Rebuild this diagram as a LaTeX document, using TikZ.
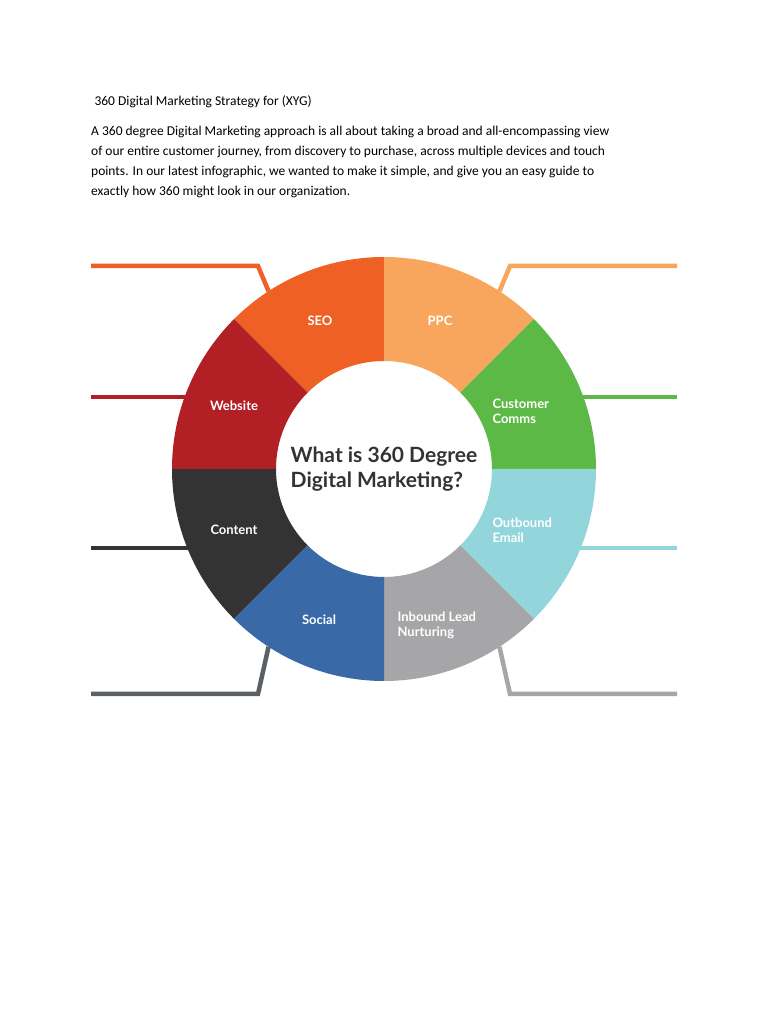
\documentclass[tikz,border=0pt]{standalone}
\usepackage{fontspec}
\usetikzlibrary{calc}
\setmainfont{Carlito}
\newfontfamily\lab{Lato}
\definecolor{cseo}{HTML}{EE6023}
\definecolor{cppc}{HTML}{F8A65E}
\definecolor{ccc}{HTML}{5DB946}
\definecolor{cout}{HTML}{92D5DB}
\definecolor{cinb}{HTML}{A6A6A8}
\definecolor{csoc}{HTML}{3A69A8}
\definecolor{ccon}{HTML}{333333}
\definecolor{cweb}{HTML}{B21F24}
\definecolor{csocl}{HTML}{5B6064}
\begin{document}
\begin{tikzpicture}[x=1pt,y=1pt,
  lbl/.style={text=white,font=\lab\bfseries\fontsize{13}{15}\selectfont,align=left},
  conn/.style={line width=4.5pt}]
\useasboundingbox (0,0) rectangle (768,1024);
\fill[white] (0,0) rectangle (768,1024);
\node[anchor=base west,font=\fontsize{13.5}{20}\selectfont] (title) at (91,918) {360 Digital Marketing Strategy for (XYG)};
\node[anchor=north west,align=left,inner sep=0pt,font=\fontsize{13.5}{20}\selectfont] (para) at (91,898)
{A 360 degree Digital Marketing approach is all about taking a broad and all-encompassing view\\
of our entire customer journey, from discovery to purchase, across multiple devices and touch\\
points. In our latest infographic, we wanted to make it simple, and give you an easy guide to\\
exactly how 360 might look in our organization.};
\coordinate (c) at (384,555);
% connectors
\coordinate (seoE) at ($(c)+(123:212)$);
\coordinate (ppcE) at ($(c)+(57:212)$);
\coordinate (socE) at ($(c)+(237:212)$);
\coordinate (inbE) at ($(c)+(303:212)$);
\draw[conn,cseo] (91,758) -- (258,758) -- (seoE);
\draw[conn,cppc] (677,758) -- (510,758) -- (ppcE);
\draw[conn,cweb] (91,627) -- (200,627);
\draw[conn,ccc] (677,627) -- (570,627);
\draw[conn,ccon] (91,476) -- (200,476);
\draw[conn,cout] (677,476) -- (570,476);
\draw[conn,csocl] (91,330) -- (258,330) -- (socE);
\draw[conn,cinb] (677,330) -- (510,330) -- (inbE);
% wedges
\foreach \a/\col in {90/cseo,45/cppc,0/ccc,-45/cout,-90/cinb,-135/csoc,180/ccon,135/cweb}{
  \fill[\col] ($(c)+(\a:108)$) -- ($(c)+(\a:212)$) arc[start angle=\a,delta angle=45,radius=212]
     -- ($(c)+(\a+45:108)$) arc[start angle=\a+45,delta angle=-45,radius=108] -- cycle;
}
\node[text=ccon,font=\lab\bfseries\fontsize{21}{25}\selectfont,align=left] (center) at (c) {What is 360 Degree\\Digital Marketing?};
\node[lbl] (seo) at (320,703) {SEO};
\node[lbl] (ppc) at (440,703) {PPC};
\node[lbl] (web) at (234,618) {Website};
\node[lbl] (con) at (234,494) {Content};
\node[lbl] (soc) at (319,404) {Social};
\node[lbl,anchor=west] (cc) at (489,613) {Customer\\Comms};
\node[lbl,anchor=west] (ob) at (489,494) {Outbound\\Email};
\node[lbl,anchor=west] (ib) at (394,399) {Inbound Lead\\Nurturing};
\end{tikzpicture}
\end{document}
